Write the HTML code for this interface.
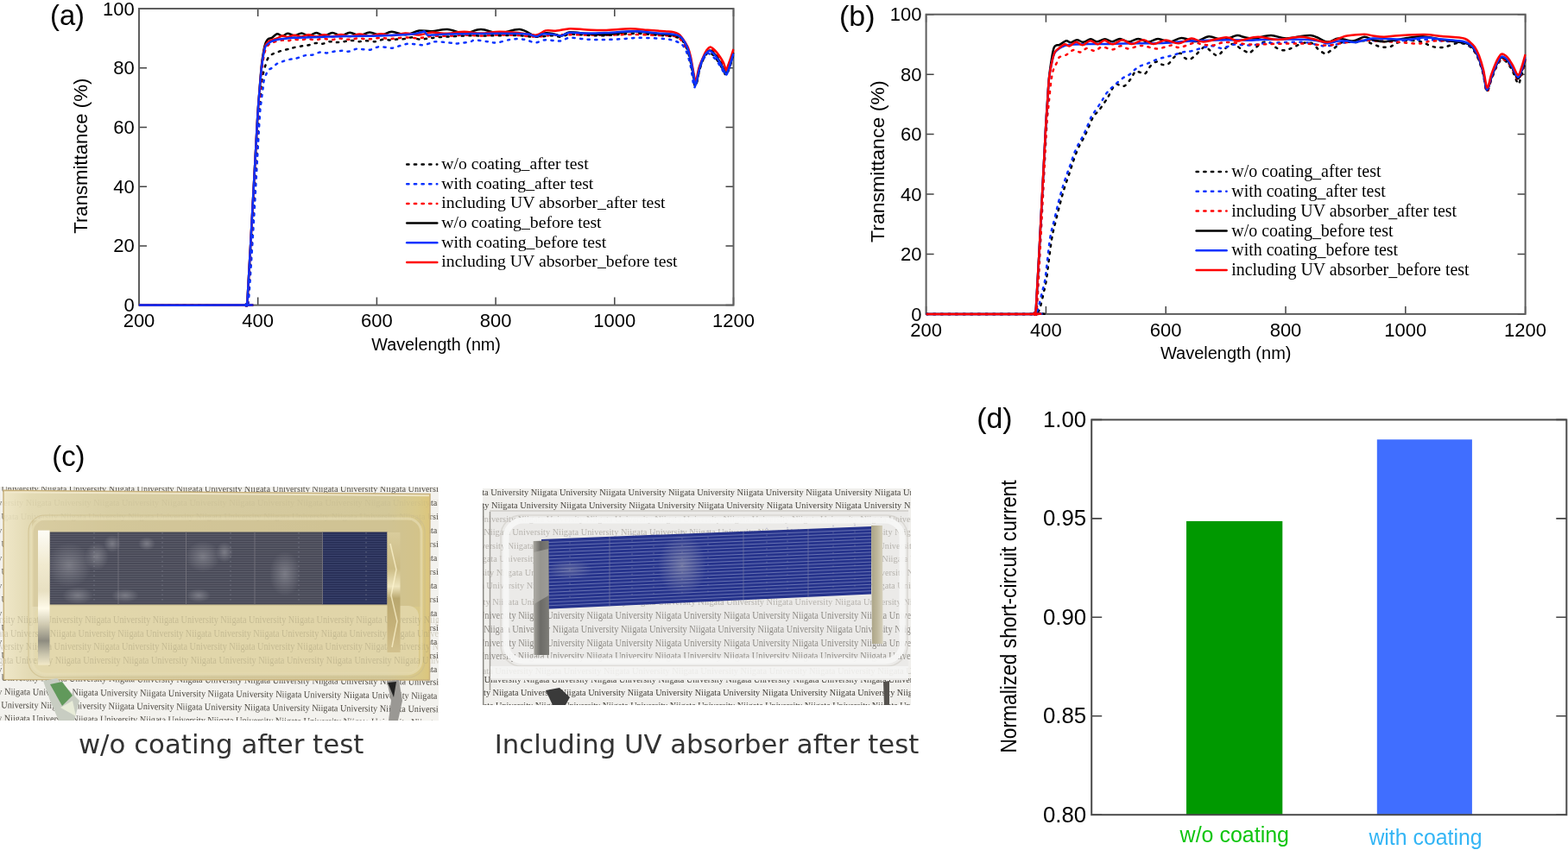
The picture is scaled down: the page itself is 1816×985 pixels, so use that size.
<!DOCTYPE html>
<html><head><meta charset="utf-8"><title>Figure</title>
<style>html,body{margin:0;padding:0;background:#fff;width:1816px;height:985px;overflow:hidden}svg{display:block}</style>
</head><body>
<svg width="1816" height="985" viewBox="0 0 1816 985">
<rect width="1816" height="985" fill="#fff"/>
<clipPath id="clip161"><rect x="161" y="8" width="689.5" height="347.6"/></clipPath>
<path d="M161,353.6v-9M161,10v9M161,353.6h9M849.5,353.6h-9M298.7,353.6v-9M298.7,10v9M161,284.88h9M849.5,284.88h-9M436.4,353.6v-9M436.4,10v9M161,216.16h9M849.5,216.16h-9M574.1,353.6v-9M574.1,10v9M161,147.44h9M849.5,147.44h-9M711.8,353.6v-9M711.8,10v9M161,78.72h9M849.5,78.72h-9M849.5,353.6v-9M849.5,10v9M161,10h9M849.5,10h-9" stroke="#444" stroke-width="1.5" fill="none"/>
<rect x="161" y="10" width="688.5" height="343.6" fill="none" stroke="#5e5e5e" stroke-width="2"/>
<g clip-path="url(#clip161)">
<path d="M161,353.6C181.33,353.6 262.25,353.78 283,353.6C303.75,353.42 284.75,353.6 285.5,352.5C286.25,351.4 286.25,363.25 287.5,347C288.75,330.75 291.08,287.83 293,255C294.92,222.17 297.58,173 299,150C300.42,127 300.72,126.82 301.5,117C302.28,107.18 302.67,98.13 303.7,91.1C304.73,84.07 306.52,78.87 307.7,74.8C308.88,70.73 309.58,68.67 310.8,66.7C312.02,64.73 313.32,64.02 315,63C316.68,61.98 318.73,61.4 320.9,60.6C323.07,59.8 325.47,58.88 328,58.2C330.53,57.52 334.1,57 336.1,56.5C338.1,56 337.88,55.7 340,55.2C342.12,54.7 345.87,54 348.8,53.5C351.73,53 354.8,52.78 357.6,52.2C360.4,51.62 362.95,50.23 365.6,50C368.25,49.77 370.87,51.1 373.5,50.8C376.13,50.5 378.77,48.48 381.4,48.2C384.03,47.92 386.52,49.1 389.3,49.1C392.08,49.1 395.15,48.57 398.1,48.2C401.05,47.83 404.05,46.9 407,46.9C409.95,46.9 412.87,48.13 415.8,48.2C418.73,48.27 421.37,47.3 424.6,47.3C427.83,47.3 431.97,48.48 435.2,48.2C438.43,47.92 441.22,45.9 444,45.6C446.78,45.3 449.27,46.4 451.9,46.4C454.53,46.4 457.02,45.82 459.8,45.6C462.58,45.38 465.67,45.48 468.6,45.1C471.53,44.72 474.6,43.22 477.4,43.3C480.2,43.38 482.47,45.37 485.4,45.6C488.33,45.83 491.73,45.07 495,44.7C498.27,44.33 500.83,43.78 505,43.4C509.17,43.02 514.17,42.73 520,42.4C525.83,42.07 533.33,41.57 540,41.4C546.67,41.23 553.33,41.43 560,41.4C566.67,41.37 573.33,41.25 580,41.2C586.67,41.15 593.33,40.83 600,41.1C606.67,41.37 613.33,42.78 620,42.8C626.67,42.82 635,41.2 640,41.2C645,41.2 646.67,43.07 650,42.8C653.33,42.53 655,39.93 660,39.6C665,39.27 673.33,40.53 680,40.8C686.67,41.07 690.83,41.53 700,41.2C709.17,40.87 725,38.9 735,38.8C745,38.7 752.5,40 760,40.6C767.5,41.2 775.33,41.67 780,42.4C784.67,43.13 785.83,43.57 788,45C790.17,46.43 791.5,48.33 793,51C794.5,53.67 795.75,57 797,61C798.25,65 799.5,70.33 800.5,75C801.5,79.67 802.33,84.97 803,89C803.67,93.03 803.92,97.78 804.5,99.2C805.08,100.62 805.58,100.37 806.5,97.5C807.42,94.63 808.75,86.58 810,82C811.25,77.42 812.67,73.17 814,70C815.33,66.83 816.75,64.58 818,63C819.25,61.42 819.83,60 821.5,60.5C823.17,61 825.92,63.58 828,66C830.08,68.42 832.33,72.33 834,75C835.67,77.67 836.87,80 838,82C839.13,84 839.8,87.17 840.8,87C841.8,86.83 842.97,83.5 844,81C845.03,78.5 846.08,75 847,72C847.92,69 849.08,64.5 849.5,63" fill="none" stroke="#000" stroke-width="2.5" stroke-linejoin="round" stroke-dasharray="2.2 6.4" stroke-linecap="round"/>
<path d="M161,353.6C181.25,353.6 261.83,353.77 282.5,353.6C303.17,353.43 284.25,353.62 285,352.6C285.75,351.58 285.75,364.27 287,347.5C288.25,330.73 290.58,285.92 292.5,252C294.42,218.08 297.08,167.67 298.5,144C299.92,120.33 300.17,120.67 301,110C301.83,99.33 302.67,87.83 303.5,80C304.33,72.17 305.17,67.08 306,63C306.83,58.92 307.5,57.5 308.5,55.5C309.5,53.5 310.75,52.05 312,51C313.25,49.95 314.5,49.77 316,49.2C317.5,48.63 319,48.03 321,47.6C323,47.17 325.83,46.67 328,46.6C330.17,46.53 332,47.38 334,47.2C336,47.02 337.67,45.63 340,45.5C342.33,45.37 345.33,46.48 348,46.4C350.67,46.32 353.17,45.03 356,45C358.83,44.97 362,46.23 365,46.2C368,46.17 370.83,44.83 374,44.8C377.17,44.77 380.67,46.03 384,46C387.33,45.97 390.67,44.63 394,44.6C397.33,44.57 400.5,45.83 404,45.8C407.5,45.77 411.17,44.47 415,44.4C418.83,44.33 422.83,45.47 427,45.4C431.17,45.33 435.67,44.07 440,44C444.33,43.93 448.33,45.1 453,45C457.67,44.9 462.83,43.53 468,43.4C473.17,43.27 478.67,44.43 484,44.2C489.33,43.97 494.33,42.4 500,42C505.67,41.6 511.83,42.03 518,41.8C524.17,41.57 530.5,40.67 537,40.6C543.5,40.53 550.17,41.43 557,41.4C563.83,41.37 570.83,40.47 578,40.4C585.17,40.33 592.83,40.63 600,41C607.17,41.37 614.33,42.67 621,42.6C627.67,42.53 633.5,40.98 640,40.6C646.5,40.22 650,40.3 660,40.3C670,40.3 688.33,40.65 700,40.6C711.67,40.55 720,39.97 730,40C740,40.03 751.67,40.5 760,40.8C768.33,41.1 775.67,41.27 780,41.8C784.33,42.33 784.33,42.97 786,44C787.67,45.03 788.67,46.17 790,48C791.33,49.83 792.83,53 794,55C795.17,57 796,57.5 797,60C798,62.5 799.17,66.83 800,70C800.83,73.17 801.08,74.5 802,79C802.92,83.5 804.5,95.5 805.5,97C806.5,98.5 807.25,90.83 808,88C808.75,85.17 808.83,83.5 810,80C811.17,76.5 813.58,70.25 815,67C816.42,63.75 817.25,62.17 818.5,60.5C819.75,58.83 821.25,57.25 822.5,57C823.75,56.75 824.75,58 826,59C827.25,60 828.67,61.33 830,63C831.33,64.67 832.67,66.83 834,69C835.33,71.17 836.83,73.58 838,76C839.17,78.42 840.17,83 841,83.5C841.83,84 842.33,80.75 843,79C843.67,77.25 843.92,76.33 845,73C846.08,69.67 848.75,61.33 849.5,59" fill="none" stroke="#ff0000" stroke-width="2.5" stroke-linejoin="round" stroke-dasharray="2.2 6.4" stroke-linecap="round"/>
<path d="M161,353.6C181.42,353.6 262.67,353.78 283.5,353.6C304.33,353.42 285.25,353.6 286,352.5C286.75,351.4 286.67,363.25 288,347C289.33,330.75 291.92,289.5 294,255C296.08,220.5 299.07,162.92 300.5,140C301.93,117.08 301.9,123.97 302.6,117.5C303.3,111.03 304.18,105.27 304.7,101.2C305.22,97.13 305.03,95.8 305.7,93.1C306.37,90.4 307.85,87.03 308.7,85C309.55,82.97 309.78,81.92 310.8,80.9C311.82,79.88 313.12,80.08 314.8,78.9C316.48,77.72 318.7,75.12 320.9,73.8C323.1,72.48 325.47,71.85 328,71C330.53,70.15 334.1,69.12 336.1,68.7C338.1,68.28 337.88,68.98 340,68.5C342.12,68.02 346.45,66.53 348.8,65.8C351.15,65.07 351.9,64.47 354.1,64.1C356.3,63.73 359.22,64.2 362,63.6C364.78,63 368,60.87 370.8,60.5C373.6,60.13 376,61.55 378.8,61.4C381.6,61.25 384.67,60.03 387.6,59.6C390.53,59.17 393.62,58.8 396.4,58.8C399.18,58.8 401.52,59.97 404.3,59.6C407.08,59.23 410.17,56.97 413.1,56.6C416.03,56.23 419.1,57.27 421.9,57.4C424.7,57.53 427.25,57.9 429.9,57.4C432.55,56.9 435.02,54.83 437.8,54.4C440.58,53.97 443.82,54.58 446.6,54.8C449.38,55.02 451.72,56 454.5,55.7C457.28,55.4 460.35,53.82 463.3,53C466.25,52.18 469.25,51.08 472.2,50.8C475.15,50.52 478.07,51.07 481,51.3C483.93,51.53 486.87,52.42 489.8,52.2C492.73,51.98 496.07,50.67 498.6,50C501.13,49.33 501.43,48.28 505,48.2C508.57,48.12 515.83,49.13 520,49.5C524.17,49.87 525.83,50.62 530,50.4C534.17,50.18 541.67,48.87 545,48.2C548.33,47.53 546.67,46.4 550,46.4C553.33,46.4 560.83,47.68 565,48.2C569.17,48.72 570.83,49.87 575,49.5C579.17,49.13 585.83,46.73 590,46C594.17,45.27 596.67,45.03 600,45.1C603.33,45.17 606.67,45.67 610,46.4C613.33,47.13 616.67,49.5 620,49.5C623.33,49.5 626.67,46.83 630,46.4C633.33,45.97 636.67,46.75 640,46.9C643.33,47.05 646.67,47.82 650,47.3C653.33,46.78 655,44.08 660,43.8C665,43.52 673.33,45.23 680,45.6C686.67,45.97 693.33,46.07 700,46C706.67,45.93 713.33,45.57 720,45.2C726.67,44.83 731.67,43.82 740,43.8C748.33,43.78 763.33,44.58 770,45.1C776.67,45.62 777.33,46.22 780,46.9C782.67,47.58 784.33,48.4 786,49.2C787.67,50 788.5,49.9 790,51.7C791.5,53.5 793.33,55.73 795,60C796.67,64.27 798.55,70.6 800,77.3C801.45,84 802.7,97.08 803.7,100.2C804.7,103.32 805.12,98.7 806,96C806.88,93.3 807.83,88 809,84C810.17,80 811.67,75.17 813,72C814.33,68.83 815.83,66.73 817,65C818.17,63.27 818.17,61.1 820,61.6C821.83,62.1 825.5,65.27 828,68C830.5,70.73 832.93,74.83 835,78C837.07,81.17 838.9,86.67 840.4,87C841.9,87.33 842.9,82.67 844,80C845.1,77.33 846.08,73.83 847,71C847.92,68.17 849.08,64.33 849.5,63" fill="none" stroke="#0a32ff" stroke-width="2.5" stroke-linejoin="round" stroke-dasharray="2.2 6.4" stroke-linecap="round"/>
<path d="M161,353.6C181.17,353.6 261.42,353.73 282,353.6C302.58,353.47 283.75,353.73 284.5,352.8C285.25,351.87 285.25,365.13 286.5,348C287.75,330.87 290.08,284.67 292,250C293.92,215.33 296.58,164.17 298,140C299.42,115.83 299.67,115.83 300.5,105C301.33,94.17 302.17,82.83 303,75C303.83,67.17 304.72,62.27 305.5,58C306.28,53.73 306.82,51.58 307.7,49.4C308.58,47.22 309.62,45.82 310.8,44.9C311.98,43.98 313.12,44.83 314.8,43.9C316.48,42.97 318.87,39.65 320.9,39.3C322.93,38.95 324.97,41.88 327,41.8C329.03,41.72 330.73,38.88 333.1,38.8C335.47,38.72 338.5,41.37 341.2,41.3C343.9,41.23 346.58,38.35 349.3,38.4C352.02,38.45 354.65,41.65 357.5,41.6C360.35,41.55 363.4,38.1 366.4,38.1C369.4,38.1 372.42,41.6 375.5,41.6C378.58,41.6 381.65,38.13 384.9,38.1C388.15,38.07 391.62,41.45 395,41.4C398.38,41.35 401.62,37.83 405.2,37.8C408.78,37.77 412.68,41.27 416.5,41.2C420.32,41.13 424.02,37.47 428.1,37.4C432.18,37.33 436.73,40.9 441,40.8C445.27,40.7 448.95,36.9 453.7,36.8C458.45,36.7 464.22,40.4 469.5,40.2C474.78,40 480.32,36.27 485.4,35.6C490.48,34.93 494.53,36.45 500,36.2C505.47,35.95 511.93,33.72 518.2,34.1C524.47,34.48 531.13,38.5 537.6,38.5C544.07,38.5 550.25,34.1 557,34.1C563.75,34.1 570.62,38.5 578.1,38.5C585.58,38.5 594.7,33.47 601.9,34.1C609.1,34.73 616.62,41.57 621.3,42.3C625.98,43.03 626.88,39.07 630,38.5C633.12,37.93 636.67,38.38 640,38.9C643.33,39.42 646.67,41.88 650,41.6C653.33,41.32 655,37.63 660,37.2C665,36.77 673.33,38.48 680,39C686.67,39.52 693.67,40.47 700,40.3C706.33,40.13 712.17,38.67 718,38C723.83,37.33 728,36.13 735,36.3C742,36.47 752.5,38.3 760,39C767.5,39.7 775.33,39.83 780,40.5C784.67,41.17 785.83,41.58 788,43C790.17,44.42 791.5,46.5 793,49C794.5,51.5 795.75,54.17 797,58C798.25,61.83 799.5,67.33 800.5,72C801.5,76.67 802.25,81.92 803,86C803.75,90.08 804.33,95 805,96.5C805.67,98 806.17,97.75 807,95C807.83,92.25 808.83,84.5 810,80C811.17,75.5 812.67,71.17 814,68C815.33,64.83 816.6,62.58 818,61C819.4,59.42 820.73,58.17 822.4,58.5C824.07,58.83 826.07,60.75 828,63C829.93,65.25 832.33,69.17 834,72C835.67,74.83 836.83,77.83 838,80C839.17,82.17 840,85.17 841,85C842,84.83 843,81.67 844,79C845,76.33 846.08,72 847,69C847.92,66 849.08,62.33 849.5,61" fill="none" stroke="#000" stroke-width="2.5" stroke-linejoin="round"/>
<path d="M161,353.6C181.17,353.6 261.42,353.73 282,353.6C302.58,353.47 283.75,353.73 284.5,352.8C285.25,351.87 285.25,365.13 286.5,348C287.75,330.87 290.08,284.67 292,250C293.92,215.33 296.58,164 298,140C299.42,116 299.67,116.5 300.5,106C301.33,95.5 302.17,84.67 303,77C303.83,69.33 304.72,64.17 305.5,60C306.28,55.83 306.62,54.08 307.7,52C308.78,49.92 310.62,48.5 312,47.5C313.38,46.5 314.52,46.5 316,46C317.48,45.5 319.07,45.25 320.9,44.5C322.73,43.75 324.97,41.75 327,41.5C329.03,41.25 330.73,43.12 333.1,43C335.47,42.88 338.5,40.87 341.2,40.8C343.9,40.73 346.58,42.68 349.3,42.6C352.02,42.52 354.65,40.3 357.5,40.3C360.35,40.3 363.4,42.6 366.4,42.6C369.4,42.6 372.42,40.33 375.5,40.3C378.58,40.27 381.65,42.45 384.9,42.4C388.15,42.35 391.62,40.03 395,40C398.38,39.97 401.62,42.27 405.2,42.2C408.78,42.13 412.68,39.67 416.5,39.6C420.32,39.53 424.02,41.87 428.1,41.8C432.18,41.73 436.73,39.3 441,39.2C445.27,39.1 448.95,41.3 453.7,41.2C458.45,41.1 464.22,38.72 469.5,38.6C474.78,38.48 480.32,40.67 485.4,40.5C490.48,40.33 494.53,37.88 500,37.6C505.47,37.32 511.93,38.93 518.2,38.8C524.47,38.67 531.13,36.83 537.6,36.8C544.07,36.77 550.25,38.6 557,38.6C563.75,38.6 570.62,36.87 578.1,36.8C585.58,36.73 594.7,37.57 601.9,38.2C609.1,38.83 616.28,41.07 621.3,40.6C626.32,40.13 628.05,36.23 632,35.4C635.95,34.57 640.33,35.97 645,35.6C649.67,35.23 654.17,33.4 660,33.2C665.83,33 673.33,34.1 680,34.4C686.67,34.7 691.67,35.2 700,35C708.33,34.8 721.67,33.23 730,33.2C738.33,33.17 743.33,34.28 750,34.8C756.67,35.32 765,35.9 770,36.3C775,36.7 777.33,36.67 780,37.2C782.67,37.73 784.33,38.4 786,39.5C787.67,40.6 788.67,42.05 790,43.8C791.33,45.55 792.83,48.05 794,50C795.17,51.95 796,52.83 797,55.5C798,58.17 799.17,62.43 800,66C800.83,69.57 801.08,72.22 802,76.9C802.92,81.58 804.5,92.75 805.5,94.1C806.5,95.45 807.25,87.87 808,85C808.75,82.13 808.83,80.28 810,76.9C811.17,73.52 813.58,67.85 815,64.7C816.42,61.55 817.25,59.7 818.5,58C819.75,56.3 821.25,54.75 822.5,54.5C823.75,54.25 824.75,55.48 826,56.5C827.25,57.52 828.67,59.02 830,60.6C831.33,62.18 832.67,63.97 834,66C835.33,68.03 836.83,70.32 838,72.8C839.17,75.28 840.17,80.28 841,80.9C841.83,81.52 842.33,78.18 843,76.5C843.67,74.82 843.92,74.05 845,70.8C846.08,67.55 848.75,59.3 849.5,57" fill="none" stroke="#ff0000" stroke-width="2.5" stroke-linejoin="round"/>
<path d="M161,353.6C181.17,353.6 261.42,353.73 282,353.6C302.58,353.47 283.75,353.73 284.5,352.8C285.25,351.87 285.25,365.13 286.5,348C287.75,330.87 290.08,284.67 292,250C293.92,215.33 296.58,164 298,140C299.42,116 299.67,116.33 300.5,106C301.33,95.67 302.17,85.5 303,78C303.83,70.5 304.72,65.08 305.5,61C306.28,56.92 306.62,55.42 307.7,53.5C308.78,51.58 310.62,50.5 312,49.5C313.38,48.5 314.52,48.1 316,47.5C317.48,46.9 318.57,46.35 320.9,45.9C323.23,45.45 326.82,45.15 330,44.8C333.18,44.45 335,44.07 340,43.8C345,43.53 353.33,43.4 360,43.2C366.67,43 373.33,42.8 380,42.6C386.67,42.4 393.33,42.13 400,42C406.67,41.87 413.33,41.9 420,41.8C426.67,41.7 433.33,41.6 440,41.4C446.67,41.2 453.67,40.93 460,40.6C466.33,40.27 473.17,39.97 478,39.4C482.83,38.83 486.75,37.72 489,37.2C491.25,36.68 490.5,35.73 491.5,36.3C492.5,36.87 493.58,39.9 495,40.6C496.42,41.3 495.83,40.68 500,40.5C504.17,40.32 513.33,39.72 520,39.5C526.67,39.28 533.33,39.3 540,39.2C546.67,39.1 550,38.95 560,38.9C570,38.85 591.33,38.78 600,38.9C608.67,39.02 608.45,39.03 612,39.6C615.55,40.17 618.63,42.33 621.3,42.3C623.97,42.27 624.88,39.82 628,39.4C631.12,38.98 636.33,39.47 640,39.8C643.67,40.13 646.67,41.73 650,41.4C653.33,41.07 655,38.27 660,37.8C665,37.33 673.33,38.55 680,38.6C686.67,38.65 690.83,38.48 700,38.1C709.17,37.72 725,36.27 735,36.3C745,36.33 752.5,37.72 760,38.3C767.5,38.88 775.33,39.1 780,39.8C784.67,40.5 785.83,40.97 788,42.5C790.17,44.03 791.5,46.42 793,49C794.5,51.58 795.75,54.17 797,58C798.25,61.83 799.5,67.33 800.5,72C801.5,76.67 802.28,81.75 803,86C803.72,90.25 804.22,95.83 804.8,97.5C805.38,99.17 805.72,98.58 806.5,96C807.28,93.42 808.33,86.5 809.5,82C810.67,77.5 812.08,72.42 813.5,69C814.92,65.58 816.52,63.17 818,61.5C819.48,59.83 820.73,58.58 822.4,59C824.07,59.42 826.07,61.67 828,64C829.93,66.33 832.33,70.17 834,73C835.67,75.83 836.83,78.83 838,81C839.17,83.17 840,86.17 841,86C842,85.83 843,82.67 844,80C845,77.33 846.08,73 847,70C847.92,67 849.08,63.33 849.5,62" fill="none" stroke="#0a32ff" stroke-width="2.5" stroke-linejoin="round"/>
</g>
<text x="161" y="379.2" font-family="'Liberation Sans', Arial, Helvetica, sans-serif" font-size="22" text-anchor="middle" fill="#000">200</text>
<text x="155.8" y="361.2" font-family="'Liberation Sans', Arial, Helvetica, sans-serif" font-size="22" text-anchor="end" fill="#000">0</text>
<text x="298.7" y="379.2" font-family="'Liberation Sans', Arial, Helvetica, sans-serif" font-size="22" text-anchor="middle" fill="#000">400</text>
<text x="155.8" y="292.48" font-family="'Liberation Sans', Arial, Helvetica, sans-serif" font-size="22" text-anchor="end" fill="#000">20</text>
<text x="436.4" y="379.2" font-family="'Liberation Sans', Arial, Helvetica, sans-serif" font-size="22" text-anchor="middle" fill="#000">600</text>
<text x="155.8" y="223.76" font-family="'Liberation Sans', Arial, Helvetica, sans-serif" font-size="22" text-anchor="end" fill="#000">40</text>
<text x="574.1" y="379.2" font-family="'Liberation Sans', Arial, Helvetica, sans-serif" font-size="22" text-anchor="middle" fill="#000">800</text>
<text x="155.8" y="155.04" font-family="'Liberation Sans', Arial, Helvetica, sans-serif" font-size="22" text-anchor="end" fill="#000">60</text>
<text x="711.8" y="379.2" font-family="'Liberation Sans', Arial, Helvetica, sans-serif" font-size="22" text-anchor="middle" fill="#000">1000</text>
<text x="155.8" y="86.32" font-family="'Liberation Sans', Arial, Helvetica, sans-serif" font-size="22" text-anchor="end" fill="#000">80</text>
<text x="849.5" y="379.2" font-family="'Liberation Sans', Arial, Helvetica, sans-serif" font-size="22" text-anchor="middle" fill="#000">1200</text>
<text x="155.8" y="17.6" font-family="'Liberation Sans', Arial, Helvetica, sans-serif" font-size="22" text-anchor="end" fill="#000">100</text>
<text x="505.1" y="405.5" font-family="'Liberation Sans', Arial, Helvetica, sans-serif" font-size="20" text-anchor="middle" fill="#000" textLength="149.6" lengthAdjust="spacingAndGlyphs">Wavelength (nm)</text>
<text transform="translate(100.9,180.75) rotate(-90)" font-family="'Liberation Sans', Arial, Helvetica, sans-serif" font-size="22" text-anchor="middle" fill="#000" textLength="180" lengthAdjust="spacingAndGlyphs">Transmittance (%)</text>
<path d="M471.2,190.5H506.3" stroke="#000" stroke-width="2.5" stroke-linecap="round" stroke-dasharray="2.3 6.35"/>
<text x="511.3" y="195.8" font-family="'Liberation Serif', 'Times New Roman', serif" font-size="19.7" text-anchor="start" fill="#000" textLength="170.4" lengthAdjust="spacingAndGlyphs">w/o coating_after test</text>
<path d="M471.2,213.2H506.3" stroke="#0a32ff" stroke-width="2.5" stroke-linecap="round" stroke-dasharray="2.3 6.35"/>
<text x="511.3" y="218.5" font-family="'Liberation Serif', 'Times New Roman', serif" font-size="19.7" text-anchor="start" fill="#000" textLength="176" lengthAdjust="spacingAndGlyphs">with coating_after test</text>
<path d="M471.2,235.9H506.3" stroke="#ff0000" stroke-width="2.5" stroke-linecap="round" stroke-dasharray="2.3 6.35"/>
<text x="511.3" y="241.2" font-family="'Liberation Serif', 'Times New Roman', serif" font-size="19.7" text-anchor="start" fill="#000" textLength="259.3" lengthAdjust="spacingAndGlyphs">including UV absorber_after test</text>
<path d="M471.2,258.6H506.3" stroke="#000" stroke-width="2.5" stroke-linecap="round"/>
<text x="511.3" y="263.9" font-family="'Liberation Serif', 'Times New Roman', serif" font-size="19.7" text-anchor="start" fill="#000" textLength="185.3" lengthAdjust="spacingAndGlyphs">w/o coating_before test</text>
<path d="M471.2,281.3H506.3" stroke="#0a32ff" stroke-width="2.5" stroke-linecap="round"/>
<text x="511.3" y="286.6" font-family="'Liberation Serif', 'Times New Roman', serif" font-size="19.7" text-anchor="start" fill="#000" textLength="191" lengthAdjust="spacingAndGlyphs">with coating_before test</text>
<path d="M471.2,304H506.3" stroke="#ff0000" stroke-width="2.5" stroke-linecap="round"/>
<text x="511.3" y="309.3" font-family="'Liberation Serif', 'Times New Roman', serif" font-size="19.7" text-anchor="start" fill="#000" textLength="273.3" lengthAdjust="spacingAndGlyphs">including UV absorber_before test</text>
<text x="58" y="29.2" font-family="'Liberation Sans', Arial, Helvetica, sans-serif" font-size="34" text-anchor="start" fill="#000" textLength="40" lengthAdjust="spacingAndGlyphs">(a)</text>
<clipPath id="clip1072"><rect x="1072.6" y="14.7" width="695" height="351.2"/></clipPath>
<path d="M1072.6,363.9v-9M1072.6,16.7v9M1072.6,363.9h9M1766.6,363.9h-9M1211.4,363.9v-9M1211.4,16.7v9M1072.6,294.46h9M1766.6,294.46h-9M1350.2,363.9v-9M1350.2,16.7v9M1072.6,225.02h9M1766.6,225.02h-9M1489,363.9v-9M1489,16.7v9M1072.6,155.58h9M1766.6,155.58h-9M1627.8,363.9v-9M1627.8,16.7v9M1072.6,86.14h9M1766.6,86.14h-9M1766.6,363.9v-9M1766.6,16.7v9M1072.6,16.7h9M1766.6,16.7h-9" stroke="#444" stroke-width="1.5" fill="none"/>
<rect x="1072.6" y="16.7" width="694" height="347.2" fill="none" stroke="#5e5e5e" stroke-width="2"/>
<g clip-path="url(#clip1072)">
<path d="M1072.6,363.9C1093.83,363.9 1178.43,364.13 1200,363.9C1221.57,363.67 1201.17,363.98 1202,362.5C1202.83,361.02 1203.83,359.08 1205,355C1206.17,350.92 1207.83,343.33 1209,338C1210.17,332.67 1210.5,333.1 1212,323C1213.5,312.9 1216.17,288.73 1218,277.4C1219.83,266.07 1221.3,262.2 1223,255C1224.7,247.8 1226.53,240.53 1228.2,234.2C1229.87,227.87 1231.3,222.5 1233,217C1234.7,211.5 1236.9,205.7 1238.4,201.2C1239.9,196.7 1240.73,193.8 1242,190C1243.27,186.2 1244.5,182.23 1246,178.4C1247.5,174.57 1249.32,170.38 1251,167C1252.68,163.62 1254.43,161.43 1256.1,158.1C1257.77,154.77 1259.3,150.82 1261,147C1262.7,143.18 1264.3,138.45 1266.3,135.2C1268.3,131.95 1270.8,130.32 1273,127.5C1275.2,124.68 1277.83,120.68 1279.5,118.3C1281.17,115.92 1281.58,115.73 1283,113.2C1284.42,110.67 1286.33,105.72 1288,103.1C1289.67,100.48 1291.5,98.18 1293,97.5C1294.5,96.82 1295.33,98.72 1297,99C1298.67,99.28 1300.83,100.57 1303,99.2C1305.17,97.83 1308,93.52 1310,90.8C1312,88.08 1313.33,84.08 1315,82.9C1316.67,81.72 1318.17,83.27 1320,83.7C1321.83,84.13 1323.83,86.82 1326,85.5C1328.17,84.18 1330.67,78.15 1333,75.8C1335.33,73.45 1337.83,71.55 1340,71.4C1342.17,71.25 1343.83,74.45 1346,74.9C1348.17,75.35 1350.67,75.57 1353,74.1C1355.33,72.63 1357.67,68.17 1360,66.1C1362.33,64.03 1365,61.55 1367,61.7C1369,61.85 1370.17,65.82 1372,67C1373.83,68.18 1375.83,69.38 1378,68.8C1380.17,68.22 1382.5,65.7 1385,63.5C1387.5,61.3 1391,57.07 1393,55.6C1395,54.13 1395.33,53.97 1397,54.7C1398.67,55.43 1400.83,58.38 1403,60C1405.17,61.62 1407.67,64.7 1410,64.4C1412.33,64.1 1414.67,60.27 1417,58.2C1419.33,56.13 1421.83,53.1 1424,52C1426.17,50.9 1427.83,50.87 1430,51.6C1432.17,52.33 1434.5,54.87 1437,56.4C1439.5,57.93 1443.17,60.07 1445,60.8C1446.83,61.53 1446.33,61.82 1448,60.8C1449.67,59.78 1452.67,56.6 1455,54.7C1457.33,52.8 1459.5,50.37 1462,49.4C1464.5,48.43 1467.5,48.02 1470,48.9C1472.5,49.78 1474.5,53.15 1477,54.7C1479.5,56.25 1482.5,57.77 1485,58.2C1487.5,58.63 1489.5,58.03 1492,57.3C1494.5,56.57 1497,55.05 1500,53.8C1503,52.55 1506.67,50.38 1510,49.8C1513.33,49.22 1517.17,49.05 1520,50.3C1522.83,51.55 1524.5,55.32 1527,57.3C1529.5,59.28 1532.83,61.83 1535,62.2C1537.17,62.57 1537.83,60.9 1540,59.5C1542.17,58.1 1545.5,55.57 1548,53.8C1550.5,52.03 1551.33,49.72 1555,48.9C1558.67,48.08 1565.83,49.18 1570,48.9C1574.17,48.62 1576.67,46.83 1580,47.2C1583.33,47.57 1586.67,49.88 1590,51.1C1593.33,52.32 1596.67,53.98 1600,54.5C1603.33,55.02 1607.17,54.95 1610,54.2C1612.83,53.45 1613.67,51.2 1617,50C1620.33,48.8 1625.33,47.3 1630,47C1634.67,46.7 1640.83,47.3 1645,48.2C1649.17,49.1 1652,51.3 1655,52.4C1658,53.5 1660.17,54.4 1663,54.8C1665.83,55.2 1669.17,55.2 1672,54.8C1674.83,54.4 1677.33,53.2 1680,52.4C1682.67,51.6 1685.17,50.23 1688,50C1690.83,49.77 1694.5,50.25 1697,51C1699.5,51.75 1701.17,52.93 1703,54.5C1704.83,56.07 1706.33,57.73 1708,60.4C1709.67,63.07 1711.33,66.07 1713,70.5C1714.67,74.93 1716.5,81.08 1718,87C1719.5,92.92 1720.5,105 1722,106C1723.5,107 1725.33,97.33 1727,93C1728.67,88.67 1730.5,83.42 1732,80C1733.5,76.58 1734.77,74.33 1736,72.5C1737.23,70.67 1737.73,68.92 1739.4,69C1741.07,69.08 1743.9,70.67 1746,73C1748.1,75.33 1750.17,79.33 1752,83C1753.83,86.67 1755.83,92.67 1757,95C1758.17,97.33 1758.17,98.17 1759,97C1759.83,95.83 1760.73,92.17 1762,88C1763.27,83.83 1765.83,74.67 1766.6,72" fill="none" stroke="#000" stroke-width="2.5" stroke-linejoin="round" stroke-dasharray="2.2 6.4" stroke-linecap="round"/>
<path d="M1072.6,363.9C1093.58,363.9 1177.18,364.13 1198.5,363.9C1219.82,363.67 1199.75,363.98 1200.5,362.5C1201.25,361.02 1201.92,359.08 1203,355C1204.08,350.92 1205.75,343.33 1207,338C1208.25,332.67 1209,333.17 1210.5,323C1212,312.83 1214.25,288.33 1216,277C1217.75,265.67 1219.33,262.17 1221,255C1222.67,247.83 1224.33,240.5 1226,234C1227.67,227.5 1229.33,221.5 1231,216C1232.67,210.5 1234.5,205.33 1236,201C1237.5,196.67 1238.67,193.83 1240,190C1241.33,186.17 1242.5,181.83 1244,178C1245.5,174.17 1247.33,170.33 1249,167C1250.67,163.67 1252.33,161.33 1254,158C1255.67,154.67 1257.33,150.83 1259,147C1260.67,143.17 1262.67,137.75 1264,135C1265.33,132.25 1265.12,133.28 1267,130.5C1268.88,127.72 1273.13,121.68 1275.3,118.3C1277.47,114.92 1278.38,112.58 1280,110.2C1281.62,107.82 1283.27,105.87 1285,104C1286.73,102.13 1287.9,101.2 1290.4,99C1292.9,96.8 1297.07,92.9 1300,90.8C1302.93,88.7 1305.67,88.03 1308,86.4C1310.33,84.77 1312,82.62 1314,81C1316,79.38 1317.33,78 1320,76.7C1322.67,75.4 1326.67,74.52 1330,73.2C1333.33,71.88 1336.67,69.98 1340,68.8C1343.33,67.62 1346.67,66.98 1350,66.1C1353.33,65.22 1356.67,64.45 1360,63.5C1363.33,62.55 1366.67,61.13 1370,60.4C1373.33,59.67 1375.83,60.05 1380,59.1C1384.17,58.15 1390.83,55.67 1395,54.7C1399.17,53.73 1401.67,53.08 1405,53.3C1408.33,53.52 1411.67,56.07 1415,56C1418.33,55.93 1422.5,53.63 1425,52.9C1427.5,52.17 1425.83,51.67 1430,51.6C1434.17,51.53 1445,52.65 1450,52.5C1455,52.35 1455,51.22 1460,50.7C1465,50.18 1471.67,49.7 1480,49.4C1488.33,49.1 1500.83,48.25 1510,48.9C1519.17,49.55 1526.67,53.3 1535,53.3C1543.33,53.3 1552.5,50 1560,48.9C1567.5,47.8 1573.33,46.92 1580,46.7C1586.67,46.48 1593.33,47.52 1600,47.6C1606.67,47.68 1611.67,47.5 1620,47.2C1628.33,46.9 1641.67,45.75 1650,45.8C1658.33,45.85 1663.33,46.97 1670,47.5C1676.67,48.03 1685.5,48.5 1690,49C1694.5,49.5 1694.83,49.75 1697,50.5C1699.17,51.25 1701.17,52.02 1703,53.5C1704.83,54.98 1706.33,56.73 1708,59.4C1709.67,62.07 1711.33,65.1 1713,69.5C1714.67,73.9 1716.5,79.8 1718,85.8C1719.5,91.8 1720.5,104.48 1722,105.5C1723.5,106.52 1725.33,96.37 1727,91.9C1728.67,87.43 1730.5,82.18 1732,78.7C1733.5,75.22 1734.77,72.87 1736,71C1737.23,69.13 1737.73,67.42 1739.4,67.5C1741.07,67.58 1743.9,69.3 1746,71.5C1748.1,73.7 1750,77.28 1752,80.7C1754,84.12 1756.33,91.33 1758,92C1759.67,92.67 1760.57,88.53 1762,84.7C1763.43,80.87 1765.83,71.62 1766.6,69" fill="none" stroke="#0a32ff" stroke-width="2.5" stroke-linejoin="round" stroke-dasharray="2.2 6.4" stroke-linecap="round"/>
<path d="M1072.6,363.9C1093.25,363.9 1175.43,364.17 1196.5,363.9C1217.57,363.63 1198.25,363.62 1199,362.3C1199.75,360.98 1199.67,375.55 1201,356C1202.33,336.45 1205.17,279.33 1207,245C1208.83,210.67 1210.83,169.77 1212,150C1213.17,130.23 1213.42,132.87 1214,126.4C1214.58,119.93 1214.92,116.77 1215.5,111.2C1216.08,105.63 1216.75,98.07 1217.5,93C1218.25,87.93 1218.92,84.2 1220,80.8C1221.08,77.4 1222.88,74.98 1224,72.6C1225.12,70.22 1224.87,68.02 1226.7,66.5C1228.53,64.98 1232.22,64.93 1235,63.5C1237.78,62.07 1240.63,58.4 1243.4,57.9C1246.17,57.4 1249.03,60.83 1251.6,60.5C1254.17,60.17 1256.07,56.17 1258.8,55.9C1261.53,55.63 1265.05,59.15 1268,58.9C1270.95,58.65 1273.12,54.65 1276.5,54.4C1279.88,54.15 1284.72,57.58 1288.3,57.4C1291.88,57.22 1294.88,53.47 1298,53.3C1301.12,53.13 1303,56.47 1307,56.4C1311,56.33 1316.5,52.9 1322,52.9C1327.5,52.9 1334.17,56.47 1340,56.4C1345.83,56.33 1352.67,52.72 1357,52.5C1361.33,52.28 1361.67,55.55 1366,55.1C1370.33,54.65 1378.5,50.38 1383,49.8C1387.5,49.22 1389.33,51.15 1393,51.6C1396.67,52.05 1400.5,52.95 1405,52.5C1409.5,52.05 1412.5,49.05 1420,48.9C1427.5,48.75 1440,51.3 1450,51.6C1460,51.9 1470,50.88 1480,50.7C1490,50.52 1500.5,50.2 1510,50.5C1519.5,50.8 1528.67,52.75 1537,52.5C1545.33,52.25 1552.83,49.97 1560,49C1567.17,48.03 1573.33,46.87 1580,46.7C1586.67,46.53 1593.33,47.65 1600,48C1606.67,48.35 1613.33,48.37 1620,48.8C1626.67,49.23 1635,50.5 1640,50.6C1645,50.7 1647.17,49.9 1650,49.4C1652.83,48.9 1652,47.92 1657,47.6C1662,47.28 1673.33,47.18 1680,47.5C1686.67,47.82 1693.17,48.58 1697,49.5C1700.83,50.42 1701.17,51.42 1703,53C1704.83,54.58 1706.33,56.25 1708,59C1709.67,61.75 1711.33,65 1713,69.5C1714.67,74 1716.5,79.83 1718,86C1719.5,92.17 1720.5,105.5 1722,106.5C1723.5,107.5 1725.33,96.58 1727,92C1728.67,87.42 1730.5,82.42 1732,79C1733.5,75.58 1734.77,73.33 1736,71.5C1737.23,69.67 1737.73,67.92 1739.4,68C1741.07,68.08 1743.9,69.83 1746,72C1748.1,74.17 1750,77.67 1752,81C1754,84.33 1756.33,91.33 1758,92C1759.67,92.67 1760.57,88.67 1762,85C1763.43,81.33 1765.83,72.5 1766.6,70" fill="none" stroke="#ff0000" stroke-width="2.5" stroke-linejoin="round" stroke-dasharray="2.2 6.4" stroke-linecap="round"/>
<path d="M1072.6,363.9C1093.08,363.9 1174.63,364.12 1195.5,363.9C1216.37,363.68 1197.05,364.08 1197.8,362.6C1198.55,361.12 1198.63,374.6 1200,355C1201.37,335.4 1204.17,279.17 1206,245C1207.83,210.83 1209.83,171.17 1211,150C1212.17,128.83 1212.33,128 1213,118C1213.67,108 1214.17,98.33 1215,90C1215.83,81.67 1217.07,73.77 1218,68C1218.93,62.23 1219.65,58.02 1220.6,55.4C1221.55,52.78 1222.63,52.87 1223.7,52.3C1224.77,51.73 1225.15,52.83 1227,52C1228.85,51.17 1232.63,47.75 1234.8,47.3C1236.97,46.85 1237.92,49.48 1240,49.3C1242.08,49.12 1244.85,46.28 1247.3,46.2C1249.75,46.12 1252.05,48.97 1254.7,48.8C1257.35,48.63 1260.58,45.28 1263.2,45.2C1265.82,45.12 1267.65,48.3 1270.4,48.3C1273.15,48.3 1276.72,45.2 1279.7,45.2C1282.68,45.2 1285.42,48.33 1288.3,48.3C1291.18,48.27 1293.88,44.97 1297,45C1300.12,45.03 1303.47,48.5 1307,48.5C1310.53,48.5 1314.37,45 1318.2,45C1322.03,45 1326.18,48.5 1330,48.5C1333.82,48.5 1336.93,45 1341.1,45C1345.27,45 1350.45,48.65 1355,48.5C1359.55,48.35 1363.4,44.18 1368.4,44.1C1373.4,44.02 1379.72,48.3 1385,48C1390.28,47.7 1394.93,42.63 1400.1,42.3C1405.27,41.97 1410.57,46.22 1416,46C1421.43,45.78 1428.7,41.53 1432.7,41C1436.7,40.47 1436.78,42.22 1440,42.8C1443.22,43.38 1446.67,44.8 1452,44.5C1457.33,44.2 1465.67,41 1472,41C1478.33,41 1482.33,44.5 1490,44.5C1497.67,44.5 1510.17,40.33 1518,41C1525.83,41.67 1531.67,47.92 1537,48.5C1542.33,49.08 1545,44.65 1550,44.5C1555,44.35 1562,47.88 1567,47.6C1572,47.32 1576.17,43.05 1580,42.8C1583.83,42.55 1585.83,45.2 1590,46.1C1594.17,47 1598.33,48.57 1605,48.2C1611.67,47.83 1622.5,44.87 1630,43.9C1637.5,42.93 1643.33,42.03 1650,42.4C1656.67,42.77 1663.33,45.03 1670,46.1C1676.67,47.17 1685.5,48.15 1690,48.8C1694.5,49.45 1694.83,49.38 1697,50C1699.17,50.62 1701.17,51.1 1703,52.5C1704.83,53.9 1706.33,55.73 1708,58.4C1709.67,61.07 1711.33,64.1 1713,68.5C1714.67,72.9 1716.5,78.8 1718,84.8C1719.5,90.8 1720.5,103.48 1722,104.5C1723.5,105.52 1725.33,95.37 1727,90.9C1728.67,86.43 1730.5,81.18 1732,77.7C1733.5,74.22 1734.77,71.87 1736,70C1737.23,68.13 1737.73,66.42 1739.4,66.5C1741.07,66.58 1743.9,68.3 1746,70.5C1748.1,72.7 1750,76.28 1752,79.7C1754,83.12 1756.33,90.45 1758,91C1759.67,91.55 1760.57,86.83 1762,83C1763.43,79.17 1765.83,70.5 1766.6,68" fill="none" stroke="#000" stroke-width="2.5" stroke-linejoin="round"/>
<path d="M1072.6,363.9C1093.08,363.9 1174.63,364.12 1195.5,363.9C1216.37,363.68 1197.05,364.08 1197.8,362.6C1198.55,361.12 1198.63,374.6 1200,355C1201.37,335.4 1204.17,279.17 1206,245C1207.83,210.83 1209.83,170.83 1211,150C1212.17,129.17 1212.33,129.83 1213,120C1213.67,110.17 1214.07,99.23 1215,91C1215.93,82.77 1217.48,75.6 1218.6,70.6C1219.72,65.6 1220.3,63.43 1221.7,61C1223.1,58.57 1225.12,57.33 1227,56C1228.88,54.67 1230.83,53.7 1233,53C1235.17,52.3 1235.5,52.13 1240,51.8C1244.5,51.47 1253.33,51.13 1260,51C1266.67,50.87 1273.33,51.08 1280,51C1286.67,50.92 1292.5,50.63 1300,50.5C1307.5,50.37 1316.67,50.32 1325,50.2C1333.33,50.08 1340.83,50.23 1350,49.8C1359.17,49.37 1368.33,48.18 1380,47.6C1391.67,47.02 1408.33,46.45 1420,46.3C1431.67,46.15 1443.33,46.77 1450,46.7C1456.67,46.63 1453.33,46.12 1460,45.9C1466.67,45.68 1480.83,45.4 1490,45.4C1499.17,45.4 1508.33,45.47 1515,45.9C1521.67,46.33 1526.33,47.27 1530,48C1533.67,48.73 1533.67,50.37 1537,50.3C1540.33,50.23 1546.17,48.05 1550,47.6C1553.83,47.15 1556.67,47.38 1560,47.6C1563.33,47.82 1565,49.4 1570,48.9C1575,48.4 1583.33,45.25 1590,44.6C1596.67,43.95 1603.33,44.8 1610,45C1616.67,45.2 1623.33,46.03 1630,45.8C1636.67,45.57 1643.33,43.65 1650,43.6C1656.67,43.55 1663.33,44.88 1670,45.5C1676.67,46.12 1685.5,46.75 1690,47.3C1694.5,47.85 1694.83,48.1 1697,48.8C1699.17,49.5 1701.17,50.07 1703,51.5C1704.83,52.93 1706.33,54.73 1708,57.4C1709.67,60.07 1711.33,63.1 1713,67.5C1714.67,71.9 1716.5,77.72 1718,83.8C1719.5,89.88 1720.5,102.98 1722,104C1723.5,105.02 1725.33,94.45 1727,89.9C1728.67,85.35 1730.5,80.18 1732,76.7C1733.5,73.22 1734.77,70.87 1736,69C1737.23,67.13 1737.73,65.42 1739.4,65.5C1741.07,65.58 1743.9,67.3 1746,69.5C1748.1,71.7 1750,75.37 1752,78.7C1754,82.03 1756.33,89 1758,89.5C1759.67,90 1760.57,85.62 1762,81.7C1763.43,77.78 1765.83,68.62 1766.6,66" fill="none" stroke="#0a32ff" stroke-width="2.5" stroke-linejoin="round"/>
<path d="M1072.6,363.9C1093.08,363.9 1174.63,364.12 1195.5,363.9C1216.37,363.68 1197.05,364.08 1197.8,362.6C1198.55,361.12 1198.63,374.6 1200,355C1201.37,335.4 1204.17,279.17 1206,245C1207.83,210.83 1209.83,170.83 1211,150C1212.17,129.17 1212.33,129.83 1213,120C1213.67,110.17 1214.07,99.23 1215,91C1215.93,82.77 1217.48,75.68 1218.6,70.6C1219.72,65.52 1220.3,63.02 1221.7,60.5C1223.1,57.98 1225.07,57.03 1227,55.5C1228.93,53.97 1231.37,51.65 1233.3,51.3C1235.23,50.95 1236.43,53.82 1238.6,53.4C1240.77,52.98 1243.73,48.98 1246.3,48.8C1248.87,48.62 1251.27,52.55 1254,52.3C1256.73,52.05 1259.8,47.47 1262.7,47.3C1265.6,47.13 1268.65,51.38 1271.4,51.3C1274.15,51.22 1276.3,46.8 1279.2,46.8C1282.1,46.8 1285.33,51.38 1288.8,51.3C1292.27,51.22 1296.3,46.33 1300,46.3C1303.7,46.27 1306.93,51.1 1311,51.1C1315.07,51.1 1320.23,46.3 1324.4,46.3C1328.57,46.3 1331.73,51.07 1336,51.1C1340.27,51.13 1345.17,46.63 1350,46.5C1354.83,46.37 1360,50.63 1365,50.3C1370,49.97 1375.17,44.8 1380,44.5C1384.83,44.2 1387.33,48.72 1394,48.5C1400.67,48.28 1413.67,43.37 1420,43.2C1426.33,43.03 1428.67,47 1432,47.5C1435.33,48 1435.83,46.98 1440,46.2C1444.17,45.42 1450.33,42.85 1457,42.8C1463.67,42.75 1472,45.9 1480,45.9C1488,45.9 1498.33,42.95 1505,42.8C1511.67,42.65 1514.67,43.98 1520,45C1525.33,46.02 1531.5,49.12 1537,48.9C1542.5,48.68 1549.17,44.93 1553,43.7C1556.83,42.47 1555.5,42.17 1560,41.5C1564.5,40.83 1575,39.7 1580,39.7C1585,39.7 1586.17,41 1590,41.5C1593.83,42 1598,42.75 1603,42.7C1608,42.65 1612.17,41.65 1620,41.2C1627.83,40.75 1641.67,39.85 1650,40C1658.33,40.15 1663.33,41.5 1670,42.1C1676.67,42.7 1685.5,43.12 1690,43.6C1694.5,44.08 1695,44.22 1697,45C1699,45.78 1700.17,46.73 1702,48.3C1703.83,49.87 1706.17,51.7 1708,54.4C1709.83,57.1 1711.33,60.1 1713,64.5C1714.67,68.9 1716.43,74.63 1718,80.8C1719.57,86.97 1720.9,100.48 1722.4,101.5C1723.9,102.52 1725.4,91.53 1727,86.9C1728.6,82.27 1730.5,77.18 1732,73.7C1733.5,70.22 1734.77,67.87 1736,66C1737.23,64.13 1737.73,62.42 1739.4,62.5C1741.07,62.58 1743.9,64.3 1746,66.5C1748.1,68.7 1750,72.3 1752,75.7C1754,79.1 1756.33,86.4 1758,86.9C1759.67,87.4 1760.57,82.68 1762,78.7C1763.43,74.72 1765.83,65.62 1766.6,63" fill="none" stroke="#ff0000" stroke-width="2.5" stroke-linejoin="round"/>
</g>
<text x="1072.6" y="389.5" font-family="'Liberation Sans', Arial, Helvetica, sans-serif" font-size="22" text-anchor="middle" fill="#000">200</text>
<text x="1067.4" y="371.5" font-family="'Liberation Sans', Arial, Helvetica, sans-serif" font-size="22" text-anchor="end" fill="#000">0</text>
<text x="1211.4" y="389.5" font-family="'Liberation Sans', Arial, Helvetica, sans-serif" font-size="22" text-anchor="middle" fill="#000">400</text>
<text x="1067.4" y="302.06" font-family="'Liberation Sans', Arial, Helvetica, sans-serif" font-size="22" text-anchor="end" fill="#000">20</text>
<text x="1350.2" y="389.5" font-family="'Liberation Sans', Arial, Helvetica, sans-serif" font-size="22" text-anchor="middle" fill="#000">600</text>
<text x="1067.4" y="232.62" font-family="'Liberation Sans', Arial, Helvetica, sans-serif" font-size="22" text-anchor="end" fill="#000">40</text>
<text x="1489" y="389.5" font-family="'Liberation Sans', Arial, Helvetica, sans-serif" font-size="22" text-anchor="middle" fill="#000">800</text>
<text x="1067.4" y="163.18" font-family="'Liberation Sans', Arial, Helvetica, sans-serif" font-size="22" text-anchor="end" fill="#000">60</text>
<text x="1627.8" y="389.5" font-family="'Liberation Sans', Arial, Helvetica, sans-serif" font-size="22" text-anchor="middle" fill="#000">1000</text>
<text x="1067.4" y="93.74" font-family="'Liberation Sans', Arial, Helvetica, sans-serif" font-size="22" text-anchor="end" fill="#000">80</text>
<text x="1766.6" y="389.5" font-family="'Liberation Sans', Arial, Helvetica, sans-serif" font-size="22" text-anchor="middle" fill="#000">1200</text>
<text x="1067.4" y="24.3" font-family="'Liberation Sans', Arial, Helvetica, sans-serif" font-size="22" text-anchor="end" fill="#000">100</text>
<text x="1419.7" y="416" font-family="'Liberation Sans', Arial, Helvetica, sans-serif" font-size="20" text-anchor="middle" fill="#000" textLength="151.6" lengthAdjust="spacingAndGlyphs">Wavelength (nm)</text>
<text transform="translate(1023.8,187.2) rotate(-90)" font-family="'Liberation Sans', Arial, Helvetica, sans-serif" font-size="22" text-anchor="middle" fill="#000" textLength="187.6" lengthAdjust="spacingAndGlyphs">Transmittance (%)</text>
<path d="M1385.6,199H1420.6" stroke="#000" stroke-width="2.5" stroke-linecap="round" stroke-dasharray="2.3 6.35"/>
<text x="1426.3" y="205.1" font-family="'Liberation Serif', 'Times New Roman', serif" font-size="19.9" text-anchor="start" fill="#000" textLength="173.2" lengthAdjust="spacingAndGlyphs">w/o coating_after test</text>
<path d="M1385.6,221.8H1420.6" stroke="#0a32ff" stroke-width="2.5" stroke-linecap="round" stroke-dasharray="2.3 6.35"/>
<text x="1426.3" y="227.9" font-family="'Liberation Serif', 'Times New Roman', serif" font-size="19.9" text-anchor="start" fill="#000" textLength="178.4" lengthAdjust="spacingAndGlyphs">with coating_after test</text>
<path d="M1385.6,244.6H1420.6" stroke="#ff0000" stroke-width="2.5" stroke-linecap="round" stroke-dasharray="2.3 6.35"/>
<text x="1426.3" y="250.7" font-family="'Liberation Serif', 'Times New Roman', serif" font-size="19.9" text-anchor="start" fill="#000" textLength="260.8" lengthAdjust="spacingAndGlyphs">including UV absorber_after test</text>
<path d="M1385.6,267.4H1420.6" stroke="#000" stroke-width="2.5" stroke-linecap="round"/>
<text x="1426.3" y="273.5" font-family="'Liberation Serif', 'Times New Roman', serif" font-size="19.9" text-anchor="start" fill="#000" textLength="187.2" lengthAdjust="spacingAndGlyphs">w/o coating_before test</text>
<path d="M1385.6,290.2H1420.6" stroke="#0a32ff" stroke-width="2.5" stroke-linecap="round"/>
<text x="1426.3" y="296.3" font-family="'Liberation Serif', 'Times New Roman', serif" font-size="19.9" text-anchor="start" fill="#000" textLength="192.8" lengthAdjust="spacingAndGlyphs">with coating_before test</text>
<path d="M1385.6,313H1420.6" stroke="#ff0000" stroke-width="2.5" stroke-linecap="round"/>
<text x="1426.3" y="319.1" font-family="'Liberation Serif', 'Times New Roman', serif" font-size="19.9" text-anchor="start" fill="#000" textLength="275.2" lengthAdjust="spacingAndGlyphs">including UV absorber_before test</text>
<text x="972" y="29.5" font-family="'Liberation Sans', Arial, Helvetica, sans-serif" font-size="34" text-anchor="start" fill="#000" textLength="41.5" lengthAdjust="spacingAndGlyphs">(b)</text>
<rect x="1374" y="603.9" width="111.3" height="340.3" fill="#009900"/>
<rect x="1594.8" y="509.3" width="110.1" height="434.9" fill="#406eff"/>
<text x="1258.2" y="952.5" font-family="'Liberation Sans', Arial, Helvetica, sans-serif" font-size="25.8" text-anchor="end" fill="#000">0.80</text>
<text x="1258.2" y="838.05" font-family="'Liberation Sans', Arial, Helvetica, sans-serif" font-size="25.8" text-anchor="end" fill="#000">0.85</text>
<text x="1258.2" y="723.6" font-family="'Liberation Sans', Arial, Helvetica, sans-serif" font-size="25.8" text-anchor="end" fill="#000">0.90</text>
<text x="1258.2" y="609.15" font-family="'Liberation Sans', Arial, Helvetica, sans-serif" font-size="25.8" text-anchor="end" fill="#000">0.95</text>
<text x="1258.2" y="494.7" font-family="'Liberation Sans', Arial, Helvetica, sans-serif" font-size="25.8" text-anchor="end" fill="#000">1.00</text>
<path d="M1264.2,944.2h12M1814.3,944.2h-12M1264.2,829.75h12M1814.3,829.75h-12M1264.2,715.3h12M1814.3,715.3h-12M1264.2,600.85h12M1814.3,600.85h-12M1264.2,486.4h12M1814.3,486.4h-12" stroke="#444" stroke-width="1.6" fill="none"/>
<rect x="1264.2" y="486.4" width="550.1" height="457.8" fill="none" stroke="#4a4a4a" stroke-width="2"/>
<text transform="translate(1177.4,714.5) rotate(-90)" font-family="'Liberation Sans', Arial, Helvetica, sans-serif" font-size="25" text-anchor="middle" fill="#000" textLength="316.2" lengthAdjust="spacingAndGlyphs">Normalized short-circuit current</text>
<text x="1429.8" y="976.4" font-family="'Liberation Sans', Arial, Helvetica, sans-serif" font-size="25" text-anchor="middle" fill="#10c510" textLength="126.4" lengthAdjust="spacingAndGlyphs">w/o coating</text>
<text x="1651" y="978.7" font-family="'Liberation Sans', Arial, Helvetica, sans-serif" font-size="25" text-anchor="middle" fill="#33b5f5" textLength="131.2" lengthAdjust="spacingAndGlyphs">with coating</text>
<text x="1131.2" y="495.5" font-family="'Liberation Sans', Arial, Helvetica, sans-serif" font-size="34" text-anchor="start" fill="#000" textLength="41.3" lengthAdjust="spacingAndGlyphs">(d)</text>
<text x="60.2" y="540.3" font-family="'Liberation Sans', Arial, Helvetica, sans-serif" font-size="34" text-anchor="start" fill="#000" textLength="38.4" lengthAdjust="spacingAndGlyphs">(c)</text>
<defs>
<clipPath id="ph1"><rect x="0" y="564" width="508" height="271"/></clipPath>
<clipPath id="ph2"><rect x="559" y="566" width="496" height="251"/></clipPath>
<clipPath id="pl2"><rect x="568" y="590.5" width="484" height="190"/></clipPath>
<linearGradient id="tabL1" x1="0" y1="0" x2="0" y2="1"><stop offset="0" stop-color="#fdfcf6"/><stop offset="0.25" stop-color="#f1ead0"/><stop offset="0.45" stop-color="#e8e0c2"/><stop offset="0.58" stop-color="#fffbea"/><stop offset="0.7" stop-color="#cfc9b0"/><stop offset="0.82" stop-color="#8e8c80"/><stop offset="0.92" stop-color="#c9c4ac"/><stop offset="1" stop-color="#f2e9c8"/></linearGradient>
<linearGradient id="tabR1" x1="0" y1="0" x2="0" y2="1"><stop offset="0" stop-color="#d9cc9c"/><stop offset="0.3" stop-color="#cbbb84"/><stop offset="0.45" stop-color="#efe6bf"/><stop offset="0.55" stop-color="#b9a76e"/><stop offset="0.8" stop-color="#c6b27a"/><stop offset="1" stop-color="#d2c18e"/></linearGradient>
<linearGradient id="tabL2" x1="0" y1="0" x2="1" y2="0"><stop offset="0" stop-color="#a9a7a0"/><stop offset="0.45" stop-color="#6c6b67"/><stop offset="1" stop-color="#7d7c77"/></linearGradient>
<linearGradient id="tabR2" x1="0" y1="0" x2="1" y2="0"><stop offset="0" stop-color="#aaa386"/><stop offset="0.5" stop-color="#bdb69a"/><stop offset="1" stop-color="#d6d1bd"/></linearGradient>
<radialGradient id="haze" cx="0.5" cy="0.5" r="0.5"><stop offset="0" stop-color="#c8c8cc" stop-opacity="0.35"/><stop offset="1" stop-color="#c8c8cc" stop-opacity="0"/></radialGradient>
<radialGradient id="haze2" cx="0.5" cy="0.5" r="0.5"><stop offset="0" stop-color="#9a9cb0" stop-opacity="0.6"/><stop offset="1" stop-color="#9a9cb0" stop-opacity="0"/></radialGradient>
<filter id="bl1" x="-5%" y="-50%" width="110%" height="200%"><feGaussianBlur stdDeviation="0.7"/></filter>
</defs>
<g clip-path="url(#ph1)">
<rect x="0" y="564" width="508" height="271" fill="#f3f2ee"/>
<g font-family="'Liberation Serif', 'Times New Roman', serif" font-size="11" fill="#524e47" opacity="1"><text x="-109.8" y="569.5" textLength="704.16" lengthAdjust="spacingAndGlyphs">Niigata University Niigata University Niigata University Niigata University Niigata University Niigata University Niigata University Niigata University Niigata University</text><text x="-152.1" y="585.6" textLength="782.86" lengthAdjust="spacingAndGlyphs">Niigata University Niigata University Niigata University Niigata University Niigata University Niigata University Niigata University Niigata University Niigata University Niigata University</text><text x="-109.8" y="601.7" textLength="704.16" lengthAdjust="spacingAndGlyphs">Niigata University Niigata University Niigata University Niigata University Niigata University Niigata University Niigata University Niigata University Niigata University</text><text x="-152.1" y="617.8" textLength="782.86" lengthAdjust="spacingAndGlyphs">Niigata University Niigata University Niigata University Niigata University Niigata University Niigata University Niigata University Niigata University Niigata University Niigata University</text><text x="-109.8" y="633.9" textLength="704.16" lengthAdjust="spacingAndGlyphs">Niigata University Niigata University Niigata University Niigata University Niigata University Niigata University Niigata University Niigata University Niigata University</text><text x="-152.1" y="650" textLength="782.86" lengthAdjust="spacingAndGlyphs">Niigata University Niigata University Niigata University Niigata University Niigata University Niigata University Niigata University Niigata University Niigata University Niigata University</text><text x="-109.8" y="666.1" textLength="704.16" lengthAdjust="spacingAndGlyphs">Niigata University Niigata University Niigata University Niigata University Niigata University Niigata University Niigata University Niigata University Niigata University</text><text x="-152.1" y="682.2" textLength="782.86" lengthAdjust="spacingAndGlyphs">Niigata University Niigata University Niigata University Niigata University Niigata University Niigata University Niigata University Niigata University Niigata University Niigata University</text><text x="-109.8" y="698.3" textLength="704.16" lengthAdjust="spacingAndGlyphs">Niigata University Niigata University Niigata University Niigata University Niigata University Niigata University Niigata University Niigata University Niigata University</text><text x="-152.1" y="714.4" textLength="782.86" lengthAdjust="spacingAndGlyphs">Niigata University Niigata University Niigata University Niigata University Niigata University Niigata University Niigata University Niigata University Niigata University Niigata University</text><text x="-109.8" y="730.5" textLength="704.16" lengthAdjust="spacingAndGlyphs">Niigata University Niigata University Niigata University Niigata University Niigata University Niigata University Niigata University Niigata University Niigata University</text><text x="-152.1" y="746.6" textLength="782.86" lengthAdjust="spacingAndGlyphs">Niigata University Niigata University Niigata University Niigata University Niigata University Niigata University Niigata University Niigata University Niigata University Niigata University</text><text x="-109.8" y="762.7" textLength="704.16" lengthAdjust="spacingAndGlyphs">Niigata University Niigata University Niigata University Niigata University Niigata University Niigata University Niigata University Niigata University Niigata University</text><text x="-152.1" y="778.8" textLength="782.86" lengthAdjust="spacingAndGlyphs">Niigata University Niigata University Niigata University Niigata University Niigata University Niigata University Niigata University Niigata University Niigata University Niigata University</text></g>
<g font-family="'Liberation Serif', 'Times New Roman', serif" font-size="11" fill="#4e4a43" opacity="1" transform="rotate(0.55 150 806)"><text x="-109.8" y="790.3" textLength="704.16" lengthAdjust="spacingAndGlyphs">Niigata University Niigata University Niigata University Niigata University Niigata University Niigata University Niigata University Niigata University Niigata University</text><text x="-152.1" y="806.5" textLength="782.86" lengthAdjust="spacingAndGlyphs">Niigata University Niigata University Niigata University Niigata University Niigata University Niigata University Niigata University Niigata University Niigata University Niigata University</text><text x="-109.8" y="821.9" textLength="704.16" lengthAdjust="spacingAndGlyphs">Niigata University Niigata University Niigata University Niigata University Niigata University Niigata University Niigata University Niigata University Niigata University</text><text x="-152.1" y="837.3" textLength="782.86" lengthAdjust="spacingAndGlyphs">Niigata University Niigata University Niigata University Niigata University Niigata University Niigata University Niigata University Niigata University Niigata University Niigata University</text></g>
<linearGradient id="pl1h" x1="0" y1="0" x2="1" y2="0"><stop offset="0" stop-color="#efe7c8"/><stop offset="0.06" stop-color="#e3dab4"/><stop offset="0.25" stop-color="#d9cfa5"/><stop offset="0.6" stop-color="#d5ca9f"/><stop offset="0.9" stop-color="#d3c899"/><stop offset="0.97" stop-color="#d9c98a"/><stop offset="1" stop-color="#dcc67c"/></linearGradient>
<path d="M4,568.2 L498,572.5 L497.5,788 L4.5,787.6 Z" fill="url(#pl1h)"/>
<rect x="37" y="603" width="451" height="100" fill="#cbbd8c" opacity="0.45"/>
<rect x="40" y="702" width="445" height="78" rx="12" fill="#e3d8ad" opacity="0.8"/>
<g font-family="'Liberation Serif', 'Times New Roman', serif" font-size="11.5" fill="#857d5e" opacity="0.3" filter="url(#bl1)"><text x="-58.7" y="721.5" textLength="625.46" lengthAdjust="spacingAndGlyphs">Niigata University Niigata University Niigata University Niigata University Niigata University Niigata University Niigata University Niigata University</text><text x="-20.7" y="737.5" textLength="625.46" lengthAdjust="spacingAndGlyphs">Niigata University Niigata University Niigata University Niigata University Niigata University Niigata University Niigata University Niigata University</text><text x="-48.7" y="753" textLength="625.46" lengthAdjust="spacingAndGlyphs">Niigata University Niigata University Niigata University Niigata University Niigata University Niigata University Niigata University Niigata University</text><text x="-93.4" y="768.5" textLength="704.16" lengthAdjust="spacingAndGlyphs">Niigata University Niigata University Niigata University Niigata University Niigata University Niigata University Niigata University Niigata University Niigata University</text></g>
<g font-family="'Liberation Serif', 'Times New Roman', serif" font-size="11" fill="#a09673" opacity="0.15" filter="url(#bl1)"><text x="-127.4" y="585.6" textLength="704.16" lengthAdjust="spacingAndGlyphs">Niigata University Niigata University Niigata University Niigata University Niigata University Niigata University Niigata University Niigata University Niigata University</text><text x="-87.4" y="601.7" textLength="704.16" lengthAdjust="spacingAndGlyphs">Niigata University Niigata University Niigata University Niigata University Niigata University Niigata University Niigata University Niigata University Niigata University</text></g>
<path d="M5,570 L497,574" stroke="#f4ecd2" stroke-width="2.5" opacity="0.8"/>
<rect x="37" y="601" width="451" height="180" rx="16" fill="none" stroke="#e9dfb8" stroke-width="3" opacity="0.6"/>
<rect x="33" y="597" width="459" height="188" rx="19" fill="none" stroke="#cdbd8c" stroke-width="1.2" opacity="0.7"/>
<path d="M4,568.2 L498,572.5 L497.5,788 L4.5,787.6 Z" fill="none" stroke="#c9b27c" stroke-width="1.5"/>
<rect x="57.5" y="616.5" width="316" height="84" fill="#474856"/>
<rect x="373.5" y="616.5" width="75" height="84" fill="#262d55"/>
<path d="M57.5,619.21L373.5,619.21M57.5,621.92L373.5,621.92M57.5,624.63L373.5,624.63M57.5,627.34L373.5,627.34M57.5,630.05L373.5,630.05M57.5,632.76L373.5,632.76M57.5,635.47L373.5,635.47M57.5,638.18L373.5,638.18M57.5,640.89L373.5,640.89M57.5,643.6L373.5,643.6M57.5,646.31L373.5,646.31M57.5,649.02L373.5,649.02M57.5,651.73L373.5,651.73M57.5,654.44L373.5,654.44M57.5,657.15L373.5,657.15M57.5,659.85L373.5,659.85M57.5,662.56L373.5,662.56M57.5,665.27L373.5,665.27M57.5,667.98L373.5,667.98M57.5,670.69L373.5,670.69M57.5,673.4L373.5,673.4M57.5,676.11L373.5,676.11M57.5,678.82L373.5,678.82M57.5,681.53L373.5,681.53M57.5,684.24L373.5,684.24M57.5,686.95L373.5,686.95M57.5,689.66L373.5,689.66M57.5,692.37L373.5,692.37M57.5,695.08L373.5,695.08M57.5,697.79L373.5,697.79" stroke="#71727d" stroke-width="0.8" opacity="0.75" fill="none"/>
<path d="M373.5,619.21L448.5,619.21M373.5,621.92L448.5,621.92M373.5,624.63L448.5,624.63M373.5,627.34L448.5,627.34M373.5,630.05L448.5,630.05M373.5,632.76L448.5,632.76M373.5,635.47L448.5,635.47M373.5,638.18L448.5,638.18M373.5,640.89L448.5,640.89M373.5,643.6L448.5,643.6M373.5,646.31L448.5,646.31M373.5,649.02L448.5,649.02M373.5,651.73L448.5,651.73M373.5,654.44L448.5,654.44M373.5,657.15L448.5,657.15M373.5,659.85L448.5,659.85M373.5,662.56L448.5,662.56M373.5,665.27L448.5,665.27M373.5,667.98L448.5,667.98M373.5,670.69L448.5,670.69M373.5,673.4L448.5,673.4M373.5,676.11L448.5,676.11M373.5,678.82L448.5,678.82M373.5,681.53L448.5,681.53M373.5,684.24L448.5,684.24M373.5,686.95L448.5,686.95M373.5,689.66L448.5,689.66M373.5,692.37L448.5,692.37M373.5,695.08L448.5,695.08M373.5,697.79L448.5,697.79" stroke="#515a84" stroke-width="0.8" opacity="0.75" fill="none"/>
<path d="M109,617v1.6M109,622.5v1.6M109,628v1.6M109,633.5v1.6M109,639v1.6M109,644.5v1.6M109,650v1.6M109,655.5v1.6M109,661v1.6M109,666.5v1.6M109,672v1.6M109,677.5v1.6M109,683v1.6M109,688.5v1.6M109,694v1.6M188,617v1.6M188,622.5v1.6M188,628v1.6M188,633.5v1.6M188,639v1.6M188,644.5v1.6M188,650v1.6M188,655.5v1.6M188,661v1.6M188,666.5v1.6M188,672v1.6M188,677.5v1.6M188,683v1.6M188,688.5v1.6M188,694v1.6M267,617v1.6M267,622.5v1.6M267,628v1.6M267,633.5v1.6M267,639v1.6M267,644.5v1.6M267,650v1.6M267,655.5v1.6M267,661v1.6M267,666.5v1.6M267,672v1.6M267,677.5v1.6M267,683v1.6M267,688.5v1.6M267,694v1.6M346,617v1.6M346,622.5v1.6M346,628v1.6M346,633.5v1.6M346,639v1.6M346,644.5v1.6M346,650v1.6M346,655.5v1.6M346,661v1.6M346,666.5v1.6M346,672v1.6M346,677.5v1.6M346,683v1.6M346,688.5v1.6M346,694v1.6M424,617v1.6M424,622.5v1.6M424,628v1.6M424,633.5v1.6M424,639v1.6M424,644.5v1.6M424,650v1.6M424,655.5v1.6M424,661v1.6M424,666.5v1.6M424,672v1.6M424,677.5v1.6M424,683v1.6M424,688.5v1.6M424,694v1.6" stroke="#8a8c9a" stroke-width="1" opacity="0.6" fill="none"/>
<path d="M137,616.5V700.5M215.5,616.5V700.5M295,616.5V700.5M373.5,616.5V700.5" stroke="#77757e" stroke-width="1" opacity="0.8"/>
<ellipse cx="80" cy="655" rx="26" ry="26" fill="url(#haze)"/>
<ellipse cx="112" cy="645" rx="14" ry="16" fill="url(#haze)"/>
<ellipse cx="130" cy="630" rx="10" ry="10" fill="url(#haze)"/>
<ellipse cx="235" cy="645" rx="20" ry="18" fill="url(#haze)"/>
<ellipse cx="260" cy="640" rx="10" ry="12" fill="url(#haze)"/>
<ellipse cx="145" cy="690" rx="16" ry="8" fill="url(#haze)"/>
<ellipse cx="330" cy="665" rx="18" ry="26" fill="url(#haze)"/>
<ellipse cx="170" cy="630" rx="10" ry="8" fill="url(#haze)"/>
<ellipse cx="90" cy="690" rx="18" ry="10" fill="url(#haze)"/>
<ellipse cx="230" cy="690" rx="14" ry="8" fill="url(#haze)"/>
<rect x="44" y="614.6" width="13.5" height="156" fill="url(#tabL1)"/>
<rect x="448.5" y="617" width="15" height="139" fill="url(#tabR1)"/>
<path d="M452,630 L459,660 L453,690 L460,720 L454,750" stroke="#fff6d2" stroke-width="1.5" fill="none" opacity="0.7"/>
<path d="M50,789 L66,786 L92,812 L86,835 L68,835 L58,812 Z" fill="#c8cdc2"/>
<path d="M58,793 L72,790 L84,806 L72,818 Z" fill="#4f8f49" opacity="0.85"/>
<path d="M70,820 L84,812 L88,830 Z" fill="#e8ecd8"/>
<path d="M448,789 L462,788 L466,812 L461,835 L450,835 L453,812 Z" fill="#9a9894"/>
<path d="M449,791 L459,790 L456,808 Z" fill="#222"/>
</g>
<g clip-path="url(#ph2)">
<rect x="559" y="566" width="496" height="251" fill="#f0efec"/>
<g font-family="'Liberation Serif', 'Times New Roman', serif" font-size="11" fill="#4a4741" opacity="1"><text x="455.5" y="574.2" textLength="714" lengthAdjust="spacingAndGlyphs">Niigata University Niigata University Niigata University Niigata University Niigata University Niigata University Niigata University Niigata University Niigata University</text><text x="409.8" y="589.2" textLength="793.8" lengthAdjust="spacingAndGlyphs">Niigata University Niigata University Niigata University Niigata University Niigata University Niigata University Niigata University Niigata University Niigata University Niigata University</text></g>
<g font-family="'Liberation Serif', 'Times New Roman', serif" font-size="11" fill="#45423c" opacity="1"><text x="450.3" y="791" textLength="699.68" lengthAdjust="spacingAndGlyphs">Niigata University Niigata University Niigata University Niigata University Niigata University Niigata University Niigata University Niigata University Niigata University</text><text x="414.5" y="806.3" textLength="777.88" lengthAdjust="spacingAndGlyphs">Niigata University Niigata University Niigata University Niigata University Niigata University Niigata University Niigata University Niigata University Niigata University Niigata University</text><text x="463.6" y="821" textLength="699.68" lengthAdjust="spacingAndGlyphs">Niigata University Niigata University Niigata University Niigata University Niigata University Niigata University Niigata University Niigata University Niigata University</text></g>
<rect x="567" y="592" width="485" height="196" fill="#ebeae8"/>
<g font-family="'Liberation Serif', 'Times New Roman', serif" font-size="10.8" fill="#a09c95" opacity="0.7"><text x="441" y="604.5" textLength="711.32" lengthAdjust="spacingAndGlyphs">Niigata University Niigata University Niigata University Niigata University Niigata University Niigata University Niigata University Niigata University Niigata University</text><text x="481" y="620" textLength="711.32" lengthAdjust="spacingAndGlyphs">Niigata University Niigata University Niigata University Niigata University Niigata University Niigata University Niigata University Niigata University Niigata University</text><text x="429" y="635.5" textLength="711.32" lengthAdjust="spacingAndGlyphs">Niigata University Niigata University Niigata University Niigata University Niigata University Niigata University Niigata University Niigata University Niigata University</text><text x="466" y="651" textLength="711.32" lengthAdjust="spacingAndGlyphs">Niigata University Niigata University Niigata University Niigata University Niigata University Niigata University Niigata University Niigata University Niigata University</text><text x="416" y="666.5" textLength="711.32" lengthAdjust="spacingAndGlyphs">Niigata University Niigata University Niigata University Niigata University Niigata University Niigata University Niigata University Niigata University Niigata University</text><text x="451" y="682" textLength="711.32" lengthAdjust="spacingAndGlyphs">Niigata University Niigata University Niigata University Niigata University Niigata University Niigata University Niigata University Niigata University Niigata University</text><text x="411.5" y="700.5" textLength="790.82" lengthAdjust="spacingAndGlyphs">Niigata University Niigata University Niigata University Niigata University Niigata University Niigata University Niigata University Niigata University Niigata University Niigata University</text></g>
<g font-family="'Liberation Serif', 'Times New Roman', serif" font-size="11.5" fill="#85827c" opacity="0.9"><text x="441.5" y="717" textLength="711.32" lengthAdjust="spacingAndGlyphs">Niigata University Niigata University Niigata University Niigata University Niigata University Niigata University Niigata University Niigata University Niigata University</text><text x="481" y="733" textLength="711.32" lengthAdjust="spacingAndGlyphs">Niigata University Niigata University Niigata University Niigata University Niigata University Niigata University Niigata University Niigata University Niigata University</text><text x="441.5" y="749" textLength="711.32" lengthAdjust="spacingAndGlyphs">Niigata University Niigata University Niigata University Niigata University Niigata University Niigata University Niigata University Niigata University Niigata University</text><text x="520.5" y="764" textLength="631.82" lengthAdjust="spacingAndGlyphs">Niigata University Niigata University Niigata University Niigata University Niigata University Niigata University Niigata University Niigata University</text></g>
<g font-family="'Liberation Serif', 'Times New Roman', serif" font-size="10.8" fill="#a09c95" opacity="0.6"><text x="461" y="781" textLength="711.32" lengthAdjust="spacingAndGlyphs">Niigata University Niigata University Niigata University Niigata University Niigata University Niigata University Niigata University Niigata University Niigata University</text></g>
<path d="M567.5,593 V800" stroke="#8d8a84" stroke-width="1.5" opacity="0.8"/>
<path d="M559.7,586 V817" stroke="#74726d" stroke-width="1.4" opacity="0.85"/>
<path d="M567,592 H1052" stroke="#cfcdc8" stroke-width="1.5"/>
<rect x="586" y="603" width="459" height="163" rx="20" fill="none" stroke="#f7f7f6" stroke-width="7" opacity="0.95"/>
<rect x="580" y="597" width="471" height="175" rx="24" fill="none" stroke="#d4d2cd" stroke-width="1.5" opacity="0.8"/>
<rect x="568" y="772" width="484" height="14" fill="#f6f6f5" opacity="0.8"/>
<path d="M627,625 L1009,610 L1009,688.5 L627,706 Z" fill="#26338c"/>
<path d="M627,628.86L1009,613.74M627,632.71L1009,617.48M627,636.57L1009,621.21M627,640.43L1009,624.95M627,644.29L1009,628.69M627,648.14L1009,632.43M627,652L1009,636.17M627,655.86L1009,639.9M627,659.71L1009,643.64M627,663.57L1009,647.38M627,667.43L1009,651.12M627,671.29L1009,654.86M627,675.14L1009,658.6M627,679L1009,662.33M627,682.86L1009,666.07M627,686.71L1009,669.81M627,690.57L1009,673.55M627,694.43L1009,677.29M627,698.29L1009,681.02M627,702.14L1009,684.76" stroke="#8893c6" stroke-width="1" opacity="0.65" fill="none"/>
<path d="M706,622 V702.4 M861,616 V695.3 M936,613 V692" stroke="#6e74a0" stroke-width="1" opacity="0.7"/>
<path d="M660,620.7v1.6M660,628.5v1.6M660,636.3v1.6M660,644.1v1.6M660,651.9v1.6M660,659.7v1.6M660,667.5v1.6M660,675.3v1.6M660,683.1v1.6M660,690.9v1.6M732,617.88v1.6M732,625.68v1.6M732,633.48v1.6M732,641.28v1.6M732,649.08v1.6M732,656.88v1.6M732,664.68v1.6M732,672.48v1.6M732,680.28v1.6M732,688.08v1.6M757,616.9v1.6M757,624.7v1.6M757,632.5v1.6M757,640.3v1.6M757,648.1v1.6M757,655.9v1.6M757,663.7v1.6M757,671.5v1.6M757,679.3v1.6M757,687.1v1.6M790,615.6v1.6M790,623.4v1.6M790,631.2v1.6M790,639v1.6M790,646.8v1.6M790,654.6v1.6M790,662.4v1.6M790,670.2v1.6M790,678v1.6M790,685.8v1.6M820,614.42v1.6M820,622.22v1.6M820,630.02v1.6M820,637.82v1.6M820,645.62v1.6M820,653.42v1.6M820,661.22v1.6M820,669.02v1.6M820,676.82v1.6M820,684.62v1.6M888,611.75v1.6M888,619.55v1.6M888,627.35v1.6M888,635.15v1.6M888,642.95v1.6M888,650.75v1.6M888,658.55v1.6M888,666.35v1.6M888,674.15v1.6M888,681.95v1.6M912,610.81v1.6M912,618.61v1.6M912,626.41v1.6M912,634.21v1.6M912,642.01v1.6M912,649.81v1.6M912,657.61v1.6M912,665.41v1.6M912,673.21v1.6M912,681.01v1.6M965,608.73v1.6M965,616.53v1.6M965,624.33v1.6M965,632.13v1.6M965,639.93v1.6M965,647.73v1.6M965,655.53v1.6M965,663.33v1.6M965,671.13v1.6M965,678.93v1.6M990,607.75v1.6M990,615.55v1.6M990,623.35v1.6M990,631.15v1.6M990,638.95v1.6M990,646.75v1.6M990,654.55v1.6M990,662.35v1.6M990,670.15v1.6M990,677.95v1.6" stroke="#7c82aa" stroke-width="1" opacity="0.6" fill="none"/>
<ellipse cx="790" cy="655" rx="28" ry="36" fill="url(#haze2)"/>
<ellipse cx="660" cy="660" rx="26" ry="12" fill="url(#haze2)" opacity="0.7"/>
<path d="M617.6,627 L635.6,626.5 L636,759 L618.5,759 Z" fill="url(#tabL2)"/>
<path d="M618,640 L635,636 L635.5,690 L618.5,700 Z" fill="#b4b2ac" opacity="0.6"/>
<path d="M1009,609 L1022,609 L1022.5,746 L1010,746 Z" fill="url(#tabR2)"/>
<path d="M632,800 L648,797 L660,808 L655,817 L640,817 Z" fill="#3a3a3a"/>
<path d="M1023,790 L1030,789 L1030,817 L1024,817 Z" fill="#55524e"/>
</g>
<text x="90.9" y="872.7" font-family="'DejaVu Sans', 'Liberation Sans', sans-serif" font-size="30.5" text-anchor="start" fill="#333" textLength="330.4" lengthAdjust="spacingAndGlyphs">w/o coating after test</text>
<text x="572.8" y="872.6" font-family="'DejaVu Sans', 'Liberation Sans', sans-serif" font-size="30.5" text-anchor="start" fill="#333" textLength="491.5" lengthAdjust="spacingAndGlyphs">Including UV absorber after test</text>
</svg>
</body></html>
